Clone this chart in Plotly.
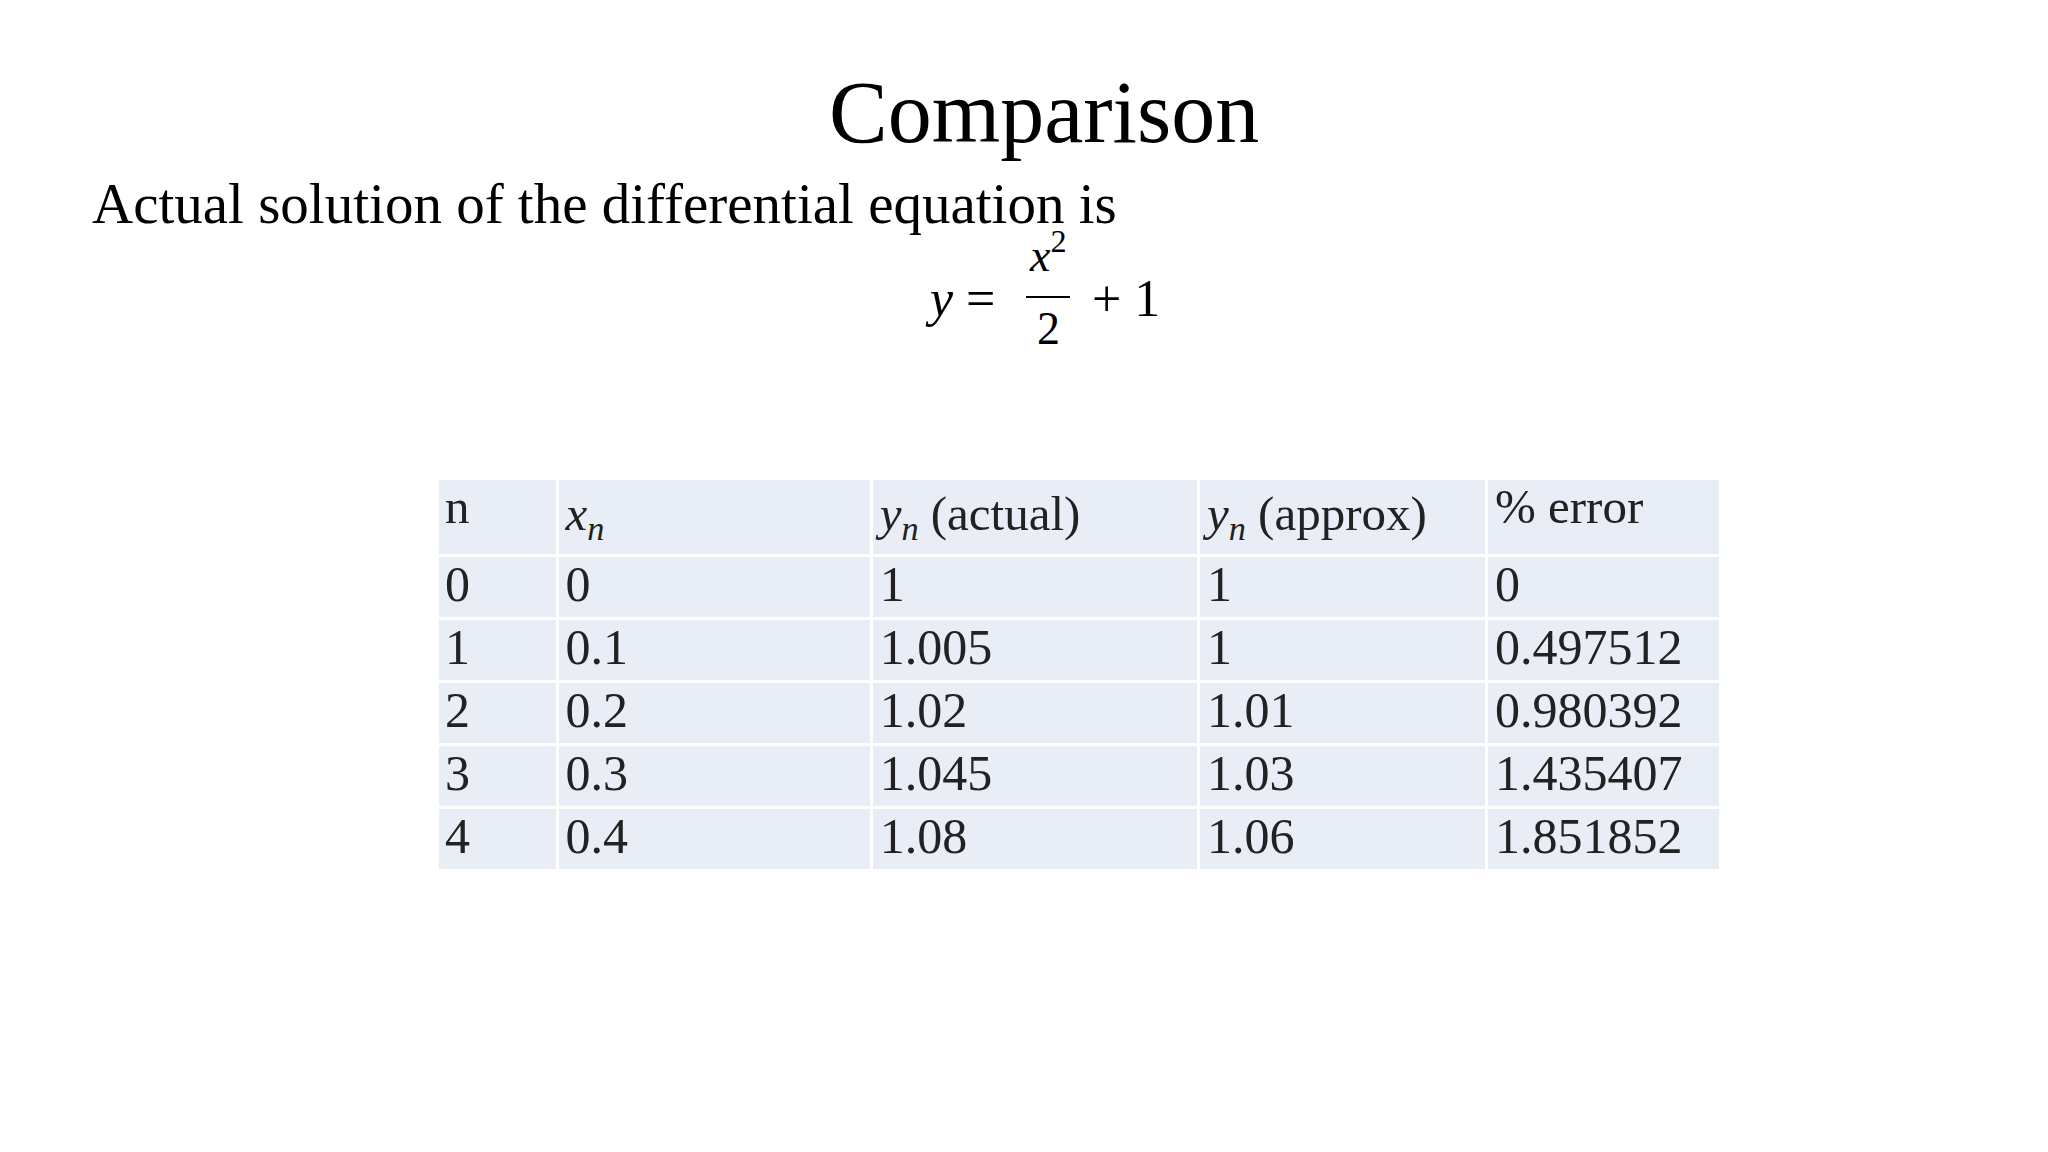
import plotly.graph_objects as go

headers = ["n", "<i>x</i><sub><i>n</i></sub>", "<i>y</i><sub><i>n</i></sub> (actual)",
           "<i>y</i><sub><i>n</i></sub> (approx)", "% error"]
n_vals = ["0", "1", "2", "3", "4"]
x_vals = ["0", "0.1", "0.2", "0.3", "0.4"]
y_actual = ["1", "1.005", "1.02", "1.045", "1.08"]
y_approx = ["1", "1", "1.01", "1.03", "1.06"]
pct_error = ["0", "0.497512", "0.980392", "1.435407", "1.851852"]

W, H = 2048, 1152
serif = "Liberation Serif"
fill = "#e9edf5"

fig = go.Figure(go.Table(
    domain=dict(x=[429 / W, 1712 / W], y=[1 - 866 / H, 1 - 470 / H]),
    columnwidth=[92, 240, 250, 220, 178],
    header=dict(values=headers, fill_color=fill, line=dict(color="white", width=3),
                align="left", height=50, font=dict(family=serif, size=49, color="#222")),
    cells=dict(values=[n_vals, x_vals, y_actual, y_approx, pct_error], fill_color=fill,
               line=dict(color="white", width=3), align="left", height=63,
               font=dict(family=serif, size=50, color="#222")),
))

def ann(text, x, y, size, xanchor="center"):
    fig.add_annotation(text=text, x=x / W, y=1 - y / H, xref="paper", yref="paper",
                       showarrow=False, xanchor=xanchor, yanchor="middle",
                       font=dict(family=serif, size=size, color="black"))

ann("Comparison", 1036, 104, 88)
ann("Actual solution of the differential equation is", 82, 196, 57, "left")
ann("<i>y</i> =", 952, 290, 52)
ann("<i>x</i><sup>2</sup>", 1040, 244, 46)
ann("2", 1040, 320, 46)
ann("+ 1", 1118, 290, 52)
fig.add_shape(type="line", xref="paper", yref="paper", x0=1018 / W, x1=1062 / W,
              y0=1 - 289 / H, y1=1 - 289 / H, line=dict(color="black", width=2))

fig.update_layout(width=W, height=H, margin=dict(l=0, r=0, t=0, b=0),
                  paper_bgcolor="white", plot_bgcolor="white")
fig.write_html("out.html")
